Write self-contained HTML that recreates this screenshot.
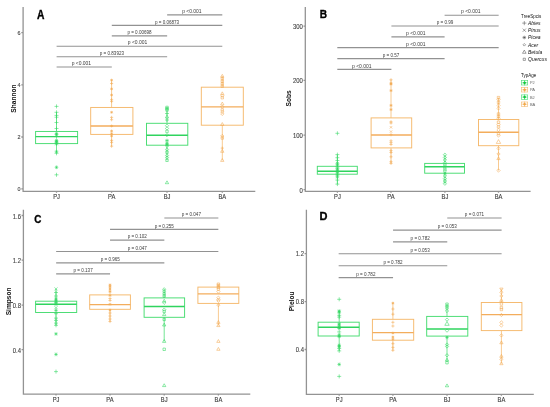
<!DOCTYPE html>
<html><head><meta charset="utf-8"><title>Boxplots</title>
<style>
html,body{margin:0;padding:0;background:#fff;}
svg{display:block;}
text{font-family:"Liberation Sans",Arial,sans-serif;}
.ax{stroke:#939393;stroke-width:1.3;fill:none;}
.bar{stroke:#929292;stroke-width:1.15;fill:none;}
.tk{font-size:6.6px;fill:#444444;stroke:#444444;stroke-width:0.12;text-anchor:end;}
.xl{font-size:6.9px;fill:#444444;stroke:#444444;stroke-width:0.15;text-anchor:middle;}
.pv{font-size:5.2px;fill:#3a3a3a;text-anchor:middle;}
.yl{font-size:6.6px;font-weight:bold;fill:#111;text-anchor:middle;}
.lt{font-weight:bold;fill:#000;stroke:#000;stroke-width:0.35;}
.bg{fill:none;stroke:#46dc70;stroke-width:0.95;}
.bo{fill:none;stroke:#f5b86c;stroke-width:0.95;}
.mg{stroke:#2fd45e;stroke-width:1.4;}
.mo{stroke:#f3ad5c;stroke-width:1.4;}
.wg{stroke:#46dc70;stroke-width:0.75;fill:none;}
.wo{stroke:#f5b86c;stroke-width:0.75;fill:none;}
.pg{stroke:#30d660;stroke-width:0.55;fill:none;}
.po{stroke:#f2a850;stroke-width:0.55;fill:none;}
.lh{font-size:5px;fill:#111;}
.li{font-size:5px;fill:#111;font-style:italic;}
.lk{font-size:4px;fill:#666;}
.lsym{stroke:#444;stroke-width:0.5;fill:none;}
.kg{stroke:#46dc70;stroke-width:0.6;fill:none;}
.ko{stroke:#f5b86c;stroke-width:0.6;fill:none;}
.kkg{fill:#10c83a;stroke:none;}
.kko{fill:#f2a848;stroke:none;}
</style></head><body>
<svg width="550" height="407" viewBox="0 0 550 407">
<rect width="550" height="407" fill="#fff"/>
<path d="M23.1 7V191.3H255.3M21.3 188.8H23.1M21.3 137H23.1M21.3 84.9H23.1M21.3 32.7H23.1M56.5 191.3V192.7M111.6 191.3V192.7M167 191.3V192.7M222.3 191.3V192.7M305.3 6.9V191.3H530.6M303.5 189.7H305.3M303.5 135.1H305.3M303.5 80.4H305.3M303.5 26.2H305.3M337.4 191.3V192.7M391 191.3V192.7M444.9 191.3V192.7M498.5 191.3V192.7M23.4 209.8V394.1H250.3M21.6 349.7H23.4M21.6 305.1H23.4M21.6 260.2H23.4M21.6 215.5H23.4M56 394.1V395.5M110 394.1V395.5M164.2 394.1V395.5M218.4 394.1V395.5M306.4 209.8V394.3H533.8M304.6 349.5H306.4M304.6 301.6H306.4M304.6 253.6H306.4M339.2 394.3V395.7M392.9 394.3V395.7M447 394.3V395.7M501.4 394.3V395.7" class="ax"/>
<path d="M56.6 67H111.8M56.6 56.7H167.15M56.6 46.2H222.3M111.8 35.8H167.15M111.8 25.4H222.3M167.15 14.9H222.3" class="bar"/>
<path d="M337.3 69.3H391.4M337.3 58.6H444.6M337.3 47.6H498.65M391.4 36.8H444.6M391.4 26H498.65M444.6 15.2H498.65" class="bar"/>
<path d="M56.15 273.8H110.05M56.15 262.8H164.35M56.15 251.5H218.35M110.05 240.1H164.35M110.05 229.3H218.35M164.35 218H218.35" class="bar"/>
<path d="M338.65 277.6H393.05M338.65 265.7H447.25M338.65 253.7H501.6M393.05 241.9H447.25M393.05 230.1H501.6M447.25 218H501.6" class="bar"/>
<path d="M56.5 112.1V131.45M56.5 143.6V151.7" class="wg"/>
<path d="M111.6 80.1V107.45M111.6 134.4V146.2" class="wo"/>
<path d="M167 107.4V123.3M167 145.2V160.3" class="wg"/>
<path d="M222.3 76.1V87.2M222.3 125.2V160.3" class="wo"/>
<path d="M337.4 154.6V166.3M337.4 174.2V184.1" class="wg"/>
<path d="M391 79.8V117.9M391 147.9V163.4" class="wo"/>
<path d="M444.9 154.7V163.4M444.9 173.2V183.7" class="wg"/>
<path d="M498.5 97.6V119.5M498.5 145.7V170.5" class="wo"/>
<path d="M56 289V301.2M56 312.5V325.5" class="wg"/>
<path d="M110 284.9V294.9M110 309.3V321.5" class="wo"/>
<path d="M164.2 289.3V297.9M164.2 317.3V341.3" class="wg"/>
<path d="M218.4 284.2V287.1M218.4 303.4V325.5" class="wo"/>
<path d="M339.2 311V322.2M339.2 336V350.9" class="wg"/>
<path d="M392.9 303.1V319.3M392.9 340.2V350.3" class="wo"/>
<path d="M447 304.2V316.4M447 336.1V361.4" class="wg"/>
<path d="M501.4 289.2V302.5M501.4 330.6V363.6" class="wo"/>
<rect x="35.6" y="131.45" width="42" height="12.15" class="bg"/>
<rect x="90.7" y="107.45" width="42.2" height="26.95" class="bo"/>
<rect x="146.5" y="123.3" width="41.3" height="21.9" class="bg"/>
<rect x="201.3" y="87.2" width="42" height="38" class="bo"/>
<rect x="317.3" y="166.3" width="40" height="7.9" class="bg"/>
<rect x="371.1" y="117.9" width="40.6" height="30" class="bo"/>
<rect x="424.7" y="163.4" width="39.8" height="9.8" class="bg"/>
<rect x="478.5" y="119.5" width="40.3" height="26.2" class="bo"/>
<rect x="35.6" y="301.2" width="41.1" height="11.3" class="bg"/>
<rect x="89.7" y="294.9" width="40.7" height="14.4" class="bo"/>
<rect x="144.1" y="297.9" width="40.5" height="19.4" class="bg"/>
<rect x="197.9" y="287.1" width="40.9" height="16.3" class="bo"/>
<rect x="318.1" y="322.2" width="41.1" height="13.8" class="bg"/>
<rect x="372.4" y="319.3" width="41.3" height="20.9" class="bo"/>
<rect x="426.7" y="316.4" width="41.1" height="19.7" class="bg"/>
<rect x="481.3" y="302.5" width="40.6" height="28.1" class="bo"/>
<path d="M35.6 136.6H77.6" class="mg"/>
<path d="M90.7 126H132.9" class="mo"/>
<path d="M146.5 135.2H187.8" class="mg"/>
<path d="M201.3 106.9H243.3" class="mo"/>
<path d="M317.3 171.3H357.3" class="mg"/>
<path d="M371.1 135H411.7" class="mo"/>
<path d="M424.7 166.8H464.5" class="mg"/>
<path d="M478.5 132.2H518.8" class="mo"/>
<path d="M35.6 304.2H76.7" class="mg"/>
<path d="M89.7 304.6H130.4" class="mo"/>
<path d="M144.1 306.5H184.6" class="mg"/>
<path d="M197.9 293.9H238.8" class="mo"/>
<path d="M318.1 327.3H359.2" class="mg"/>
<path d="M372.4 332.6H413.7" class="mo"/>
<path d="M426.7 329H467.8" class="mg"/>
<path d="M481.3 314.6H521.9" class="mo"/>
<path d="M54.5 106.4h4M56.5 104.4v4M54.5 112.3h4M56.5 110.3v4M54.5 115.4h4M56.5 113.4v4M54.5 117.2h4M56.5 115.2v4M54.5 122.5h4M56.5 120.5v4M54.5 128.5h4M56.5 126.5v4M54.7 133.8h3.6M56.5 132v3.6M55.2 132.5l2.6 2.6m0 -2.6l-2.6 2.6M54.7 134.5h3.6M56.5 132.7v3.6M55.2 133.2l2.6 2.6m0 -2.6l-2.6 2.6M54.5 136.6h4M56.5 134.6v4M54.7 140.5h3.6M56.5 138.7v3.6M55.2 139.2l2.6 2.6m0 -2.6l-2.6 2.6M54.7 141.5h3.6M56.5 139.7v3.6M55.2 140.2l2.6 2.6m0 -2.6l-2.6 2.6M54.7 142.5h3.6M56.5 140.7v3.6M55.2 141.2l2.6 2.6m0 -2.6l-2.6 2.6M54.7 144h3.6M56.5 142.2v3.6M55.2 142.7l2.6 2.6m0 -2.6l-2.6 2.6M54.7 151.7h3.6M56.5 149.9v3.6M55.2 150.4l2.6 2.6m0 -2.6l-2.6 2.6M54.5 153.3h4M56.5 151.3v4M54.7 167.3h3.6M56.5 165.5v3.6M55.2 166l2.6 2.6m0 -2.6l-2.6 2.6M54.5 174.8h4M56.5 172.8v4" class="pg"/>
<path d="M110.16 80.1h2.88M111.6 78.66v2.88M110.56 79.06l2.08 2.08m0 -2.08l-2.08 2.08M110 83.5h3.2M111.6 81.9v3.2M110.16 88.9h2.88M111.6 87.46v2.88M110.56 87.86l2.08 2.08m0 -2.08l-2.08 2.08M110.16 95h2.88M111.6 93.56v2.88M110.56 93.96l2.08 2.08m0 -2.08l-2.08 2.08M110 99.7h3.2M111.6 98.1v3.2M110 101.4h3.2M111.6 99.8v3.2M110.16 112.3h2.88M111.6 110.86v2.88M110.56 111.26l2.08 2.08m0 -2.08l-2.08 2.08M110 117.4h3.2M111.6 115.8v3.2M110 119.7h3.2M111.6 118.1v3.2M110.16 126h2.88M111.6 124.56v2.88M110.56 124.96l2.08 2.08m0 -2.08l-2.08 2.08M110.16 131h2.88M111.6 129.56v2.88M110.56 129.96l2.08 2.08m0 -2.08l-2.08 2.08M110.16 133.6h2.88M111.6 132.16v2.88M110.56 132.56l2.08 2.08m0 -2.08l-2.08 2.08M110.16 136h2.88M111.6 134.56v2.88M110.56 134.96l2.08 2.08m0 -2.08l-2.08 2.08M110 140.4h3.2M111.6 138.8v3.2M110 142.4h3.2M111.6 140.8v3.2M110 146.2h3.2M111.6 144.6v3.2" class="po"/>
<path d="M165.79 106.19h2.42v2.42h-2.42zM165.79 107.49h2.42v2.42h-2.42zM165.79 108.79h2.42v2.42h-2.42zM165 113.5h4M167 111.5v4M167 115.14l1.65 2.85h-3.31zM165 120h4M167 118v4M167 124.05l1.65 1.65l-1.65 1.65l-1.65 -1.65zM167 126.75l1.65 1.65l-1.65 1.65l-1.65 -1.65zM165.79 130.19h2.42v2.42h-2.42zM167 133.45l1.65 1.65l-1.65 1.65l-1.65 -1.65zM165.2 140.5h3.6M167 138.7v3.6M165.7 139.2l2.6 2.6m0 -2.6l-2.6 2.6M165.2 143.2h3.6M167 141.4v3.6M165.7 141.9l2.6 2.6m0 -2.6l-2.6 2.6M165.2 144.7h3.6M167 142.9v3.6M165.7 143.4l2.6 2.6m0 -2.6l-2.6 2.6M167 144.35l1.65 1.65l-1.65 1.65l-1.65 -1.65zM167 147.85l1.65 1.65l-1.65 1.65l-1.65 -1.65zM165.79 150.99h2.42v2.42h-2.42zM167 153.85l1.65 1.65l-1.65 1.65l-1.65 -1.65zM167 155.95l1.65 1.65l-1.65 1.65l-1.65 -1.65zM165.79 159.09h2.42v2.42h-2.42zM167 180.84l1.65 2.85h-3.31z" class="pg"/>
<path d="M222.3 74.34l1.65 2.85h-3.31zM221.09 77.39h2.42v2.42h-2.42zM221.09 79.99h2.42v2.42h-2.42zM221.09 82.59h2.42v2.42h-2.42zM221.09 84.99h2.42v2.42h-2.42zM222.3 91.84l1.65 2.85h-3.31zM222.3 94.05l1.65 1.65l-1.65 1.65l-1.65 -1.65zM221.09 96.49h2.42v2.42h-2.42zM222.3 102.04l1.65 2.85h-3.31zM222.3 105.15l1.65 1.65l-1.65 1.65l-1.65 -1.65zM221.09 108.69h2.42v2.42h-2.42zM222.3 110.25l1.65 1.65l-1.65 1.65l-1.65 -1.65zM222.3 112.25l1.65 1.65l-1.65 1.65l-1.65 -1.65zM222.3 122.54l1.65 2.85h-3.31zM222.3 134.35l1.65 1.65l-1.65 1.65l-1.65 -1.65zM221.09 136.79h2.42v2.42h-2.42zM220.7 148.1h3.2M222.3 146.5v3.2M222.3 149.44l1.65 2.85h-3.31zM222.3 158.54l1.65 2.85h-3.31z" class="po"/>
<path d="M335.4 133.3h4M337.4 131.3v4M335.4 154.6h4M337.4 152.6v4M335.4 157.7h4M337.4 155.7v4M335.4 160.5h4M337.4 158.5v4M335.6 163.3h3.6M337.4 161.5v3.6M336.1 162l2.6 2.6m0 -2.6l-2.6 2.6M335.6 165h3.6M337.4 163.2v3.6M336.1 163.7l2.6 2.6m0 -2.6l-2.6 2.6M335.4 167h4M337.4 165v4M335.6 168.5h3.6M337.4 166.7v3.6M336.1 167.2l2.6 2.6m0 -2.6l-2.6 2.6M335.6 170h3.6M337.4 168.2v3.6M336.1 168.7l2.6 2.6m0 -2.6l-2.6 2.6M335.6 171.5h3.6M337.4 169.7v3.6M336.1 170.2l2.6 2.6m0 -2.6l-2.6 2.6M335.6 173h3.6M337.4 171.2v3.6M336.1 171.7l2.6 2.6m0 -2.6l-2.6 2.6M335.6 175h3.6M337.4 173.2v3.6M336.1 173.7l2.6 2.6m0 -2.6l-2.6 2.6M335.6 177h3.6M337.4 175.2v3.6M336.1 175.7l2.6 2.6m0 -2.6l-2.6 2.6M335.4 180.1h4M337.4 178.1v4M335.4 184.1h4M337.4 182.1v4" class="pg"/>
<path d="M389.4 79.8h3.2M391 78.2v3.2M389.56 83.3h2.88M391 81.86v2.88M389.96 82.26l2.08 2.08m0 -2.08l-2.08 2.08M389.56 84.1h2.88M391 82.66v2.88M389.96 83.06l2.08 2.08m0 -2.08l-2.08 2.08M389.56 90.6h2.88M391 89.16v2.88M389.96 89.56l2.08 2.08m0 -2.08l-2.08 2.08M389.56 105.4h2.88M391 103.96v2.88M389.96 104.36l2.08 2.08m0 -2.08l-2.08 2.08M389.56 109.6h2.88M391 108.16v2.88M389.96 108.56l2.08 2.08m0 -2.08l-2.08 2.08M389.4 121.8h3.2M391 120.2v3.2M389.4 123h3.2M391 121.4v3.2M389.8 126.1l2.4 2.4m0 -2.4l-2.4 2.4M389.8 130.4l2.4 2.4m0 -2.4l-2.4 2.4M389.4 134.7h3.2M391 133.1v3.2M389.4 140.8h3.2M391 139.2v3.2M389.4 142.6h3.2M391 141v3.2M389.4 144.5h3.2M391 142.9v3.2M389.4 150.6h3.2M391 149v3.2M389.4 152.5h3.2M391 150.9v3.2M389.4 156.8h3.2M391 155.2v3.2M389.4 161.7h3.2M391 160.1v3.2M389.4 163.4h3.2M391 161.8v3.2" class="po"/>
<path d="M444.9 153.05l1.65 1.65l-1.65 1.65l-1.65 -1.65zM444.9 155.85l1.65 1.65l-1.65 1.65l-1.65 -1.65zM444.9 158.35l1.65 1.65l-1.65 1.65l-1.65 -1.65zM444.9 161.05l1.65 1.65l-1.65 1.65l-1.65 -1.65zM443.69 163.79h2.42v2.42h-2.42zM444.9 165.35l1.65 1.65l-1.65 1.65l-1.65 -1.65zM443.69 167.79h2.42v2.42h-2.42zM444.9 169.35l1.65 1.65l-1.65 1.65l-1.65 -1.65zM443.1 173.2h3.6M444.9 171.4v3.6M443.6 171.9l2.6 2.6m0 -2.6l-2.6 2.6M444.9 174.35l1.65 1.65l-1.65 1.65l-1.65 -1.65zM444.9 176.85l1.65 1.65l-1.65 1.65l-1.65 -1.65zM443.69 179.79h2.42v2.42h-2.42zM444.9 182.05l1.65 1.65l-1.65 1.65l-1.65 -1.65z" class="pg"/>
<path d="M497.29 96.39h2.42v2.42h-2.42zM498.5 97.95l1.65 1.65l-1.65 1.65l-1.65 -1.65zM497.29 101.09h2.42v2.42h-2.42zM498.5 103.75l1.65 1.65l-1.65 1.65l-1.65 -1.65zM498.5 106.75l1.65 1.65l-1.65 1.65l-1.65 -1.65zM497.29 112.79h2.42v2.42h-2.42zM497.29 115.19h2.42v2.42h-2.42zM498.5 116.85l1.65 1.65l-1.65 1.65l-1.65 -1.65zM497.29 120.99h2.42v2.42h-2.42zM498.5 122.95l1.65 1.65l-1.65 1.65l-1.65 -1.65zM497.29 125.69h2.42v2.42h-2.42zM498.5 128.25l1.65 1.65l-1.65 1.65l-1.65 -1.65zM497.29 132.39h2.42v2.42h-2.42zM498.5 133.85l1.65 1.65l-1.65 1.65l-1.65 -1.65zM498.5 139.58l2.2 3.85h-4.4zM498.5 146.75l1.65 1.65l-1.65 1.65l-1.65 -1.65zM498.5 152.35l1.65 1.65l-1.65 1.65l-1.65 -1.65zM498.5 156.74l1.65 2.85h-3.31zM498.5 168.85l1.65 1.65l-1.65 1.65l-1.65 -1.65z" class="po"/>
<path d="M54.5 287.4l3 3m0 -3l-3 3M54 292.5h4M56 290.5v4M54 296h4M56 294v4M54.2 299h3.6M56 297.2v3.6M54.7 297.7l2.6 2.6m0 -2.6l-2.6 2.6M54.2 300.8h3.6M56 299v3.6M54.7 299.5l2.6 2.6m0 -2.6l-2.6 2.6M54.2 302.5h3.6M56 300.7v3.6M54.7 301.2l2.6 2.6m0 -2.6l-2.6 2.6M54.2 304.2h3.6M56 302.4v3.6M54.7 302.9l2.6 2.6m0 -2.6l-2.6 2.6M54.5 306.2l3 3m0 -3l-3 3M54.2 310.4h3.6M56 308.6v3.6M54.7 309.1l2.6 2.6m0 -2.6l-2.6 2.6M54 313.7h4M56 311.7v4M54 318.1h4M56 316.1v4M54 320.4h4M56 318.4v4M54 323.1h4M56 321.1v4M54 325.3h4M56 323.3v4M54.2 333.9h3.6M56 332.1v3.6M54.7 332.6l2.6 2.6m0 -2.6l-2.6 2.6M54.2 354.4h3.6M56 352.6v3.6M54.7 353.1l2.6 2.6m0 -2.6l-2.6 2.6M54 371.6h4M56 369.6v4" class="pg"/>
<path d="M108.56 284.9h2.88M110 283.46v2.88M108.96 283.86l2.08 2.08m0 -2.08l-2.08 2.08M108.56 286.7h2.88M110 285.26v2.88M108.96 285.66l2.08 2.08m0 -2.08l-2.08 2.08M108.56 289h2.88M110 287.56v2.88M108.96 287.96l2.08 2.08m0 -2.08l-2.08 2.08M108.56 291.5h2.88M110 290.06v2.88M108.96 290.46l2.08 2.08m0 -2.08l-2.08 2.08M108.56 295.5h2.88M110 294.06v2.88M108.96 294.46l2.08 2.08m0 -2.08l-2.08 2.08M108.4 298.5h3.2M110 296.9v3.2M108.4 300.5h3.2M110 298.9v3.2M108.56 304.3h2.88M110 302.86v2.88M108.96 303.26l2.08 2.08m0 -2.08l-2.08 2.08M108.56 310h2.88M110 308.56v2.88M108.96 308.96l2.08 2.08m0 -2.08l-2.08 2.08M108.4 313h3.2M110 311.4v3.2M108.4 316h3.2M110 314.4v3.2M108.4 319h3.2M110 317.4v3.2M108.4 321.5h3.2M110 319.9v3.2" class="po"/>
<path d="M164.2 287.65l1.65 1.65l-1.65 1.65l-1.65 -1.65zM164.2 289.45l1.65 1.65l-1.65 1.65l-1.65 -1.65zM162.99 292.39h2.42v2.42h-2.42zM162.99 294.89h2.42v2.42h-2.42zM164.2 299.24l1.65 2.85h-3.31zM164.2 301.15l1.65 1.65l-1.65 1.65l-1.65 -1.65zM164.2 307.95l1.65 1.65l-1.65 1.65l-1.65 -1.65zM162.99 310.19h2.42v2.42h-2.42zM164.2 312.74l1.65 2.85h-3.31zM162.99 318.19h2.42v2.42h-2.42zM164.2 323.14l1.65 2.85h-3.31zM164.2 339.54l1.65 2.85h-3.31zM162.99 348.09h2.42v2.42h-2.42zM164.2 383.74l1.65 2.85h-3.31z" class="pg"/>
<path d="M217.19 282.99h2.42v2.42h-2.42zM217.19 284.29h2.42v2.42h-2.42zM217.19 286.09h2.42v2.42h-2.42zM217.19 287.89h2.42v2.42h-2.42zM218.4 289.95l1.65 1.65l-1.65 1.65l-1.65 -1.65zM218.4 296.05l1.65 1.65l-1.65 1.65l-1.65 -1.65zM218.4 297.95l1.65 1.65l-1.65 1.65l-1.65 -1.65zM218.4 299.15l1.65 1.65l-1.65 1.65l-1.65 -1.65zM218.4 303.45l1.65 1.65l-1.65 1.65l-1.65 -1.65zM218.4 320.54l1.65 2.85h-3.31zM218.4 323.74l1.65 2.85h-3.31zM218.4 339.54l1.65 2.85h-3.31zM218.4 347.44l1.65 2.85h-3.31z" class="po"/>
<path d="M337.2 299.3h4M339.2 297.3v4M337.4 311h3.6M339.2 309.2v3.6M337.9 309.7l2.6 2.6m0 -2.6l-2.6 2.6M337.4 312.2h3.6M339.2 310.4v3.6M337.9 310.9l2.6 2.6m0 -2.6l-2.6 2.6M337.2 315.3h4M339.2 313.3v4M337.2 317.1h4M339.2 315.1v4M337.4 323.9h3.6M339.2 322.1v3.6M337.9 322.6l2.6 2.6m0 -2.6l-2.6 2.6M337.4 325.1h3.6M339.2 323.3v3.6M337.9 323.8l2.6 2.6m0 -2.6l-2.6 2.6M337.4 327.2h3.6M339.2 325.4v3.6M337.9 325.9l2.6 2.6m0 -2.6l-2.6 2.6M337.4 328.4h3.6M339.2 326.6v3.6M337.9 327.1l2.6 2.6m0 -2.6l-2.6 2.6M337.2 331.9h4M339.2 329.9v4M337.4 334.9h3.6M339.2 333.1v3.6M337.9 333.6l2.6 2.6m0 -2.6l-2.6 2.6M337.4 336.5h3.6M339.2 334.7v3.6M337.9 335.2l2.6 2.6m0 -2.6l-2.6 2.6M337.4 345.4h3.6M339.2 343.6v3.6M337.9 344.1l2.6 2.6m0 -2.6l-2.6 2.6M337.4 346.6h3.6M339.2 344.8v3.6M337.9 345.3l2.6 2.6m0 -2.6l-2.6 2.6M337.2 348.4h4M339.2 346.4v4M337.2 350.9h4M339.2 348.9v4M337.4 364.4h3.6M339.2 362.6v3.6M337.9 363.1l2.6 2.6m0 -2.6l-2.6 2.6M337.2 376.4h4M339.2 374.4v4" class="pg"/>
<path d="M391.46 303.1h2.88M392.9 301.66v2.88M391.86 302.06l2.08 2.08m0 -2.08l-2.08 2.08M391.3 309h3.2M392.9 307.4v3.2M391.3 314.2h3.2M392.9 312.6v3.2M391.3 322.3h3.2M392.9 320.7v3.2M391.3 326h3.2M392.9 324.4v3.2M391.46 333h2.88M392.9 331.56v2.88M391.86 331.96l2.08 2.08m0 -2.08l-2.08 2.08M391.46 337h2.88M392.9 335.56v2.88M391.86 335.96l2.08 2.08m0 -2.08l-2.08 2.08M391.46 339.2h2.88M392.9 337.76v2.88M391.86 338.16l2.08 2.08m0 -2.08l-2.08 2.08M391.3 343.7h3.2M392.9 342.1v3.2M391.3 347.4h3.2M392.9 345.8v3.2M391.3 350.3h3.2M392.9 348.7v3.2" class="po"/>
<path d="M445.79 302.99h2.42v2.42h-2.42zM447 304.45l1.65 1.65l-1.65 1.65l-1.65 -1.65zM445.79 306.69h2.42v2.42h-2.42zM447 309.35l1.65 1.65l-1.65 1.65l-1.65 -1.65zM447 317.95l1.65 1.65l-1.65 1.65l-1.65 -1.65zM447 321.48l2.2 3.85h-4.4zM447 328.95l1.65 1.65l-1.65 1.65l-1.65 -1.65zM445.2 337.4h3.6M447 335.6v3.6M445.7 336.1l2.6 2.6m0 -2.6l-2.6 2.6M447 342.85l1.65 1.65l-1.65 1.65l-1.65 -1.65zM447 344.85l1.65 1.65l-1.65 1.65l-1.65 -1.65zM447 353.65l1.65 1.65l-1.65 1.65l-1.65 -1.65zM447 358.24l1.65 2.85h-3.31zM445.79 361.49h2.42v2.42h-2.42zM447 383.94l1.65 2.85h-3.31z" class="pg"/>
<path d="M501.4 290.96l1.65 -2.85h-3.31zM501.4 290.65l1.65 1.65l-1.65 1.65l-1.65 -1.65zM501.4 294.35l1.65 1.65l-1.65 1.65l-1.65 -1.65zM501.4 298.54l1.65 2.85h-3.31zM500.19 302.79h2.42v2.42h-2.42zM500.19 306.39h2.42v2.42h-2.42zM500.19 308.29h2.42v2.42h-2.42zM501.4 313.35l1.65 1.65l-1.65 1.65l-1.65 -1.65zM501.4 320.75l1.65 1.65l-1.65 1.65l-1.65 -1.65zM501.4 323.85l1.65 1.65l-1.65 1.65l-1.65 -1.65zM501.4 333.75l1.65 1.65l-1.65 1.65l-1.65 -1.65zM501.4 340.94l1.65 2.85h-3.31zM501.4 354.44l1.65 2.85h-3.31zM501.4 357.65l1.65 1.65l-1.65 1.65l-1.65 -1.65zM501.4 361.84l1.65 2.85h-3.31z" class="po"/>
<text transform="matrix(0.9 0 0 1 20.6 190.8)" class="tk" style="font-size:6.0px">0</text>
<text transform="matrix(0.9 0 0 1 20.6 139)" class="tk" style="font-size:6.0px">2</text>
<text transform="matrix(0.9 0 0 1 20.6 86.9)" class="tk" style="font-size:6.0px">4</text>
<text transform="matrix(0.9 0 0 1 20.6 34.7)" class="tk" style="font-size:6.0px">6</text>
<text transform="matrix(0.84 0 0 1 56.5 198.5)" class="xl">PJ</text>
<text transform="matrix(0.84 0 0 1 111.6 198.5)" class="xl">PA</text>
<text transform="matrix(0.84 0 0 1 167 198.5)" class="xl">BJ</text>
<text transform="matrix(0.84 0 0 1 222.3 198.5)" class="xl">BA</text>
<text transform="matrix(0.955 0 0 1 81.35 65.25)" class="pv">p &lt;0.001</text>
<text transform="matrix(0.88 0 0 1 111.88 54.95)" class="pv">p = 0.83923</text>
<text transform="matrix(0.955 0 0 1 137.5 44.45)" class="pv">p &lt;0.001</text>
<text transform="matrix(0.88 0 0 1 139.48 34.05)" class="pv">p = 0.00698</text>
<text transform="matrix(0.88 0 0 1 167.05 23.65)" class="pv">p = 0.06873</text>
<text transform="matrix(0.955 0 0 1 191.85 13.15)" class="pv">p &lt;0.001</text>
<text transform="translate(14 98.6) rotate(-90)" x="0" y="2.3" class="yl">Shannon</text>
<text transform="translate(36.9 18.7) scale(0.86 1)" style="font-size:12px" class="lt">A</text>
<text transform="matrix(0.9 0 0 1 302.8 192.7)" class="tk" style="font-size:6.6px">0</text>
<text transform="matrix(0.9 0 0 1 302.8 138.1)" class="tk" style="font-size:6.6px">100</text>
<text transform="matrix(0.9 0 0 1 302.8 83.4)" class="tk" style="font-size:6.6px">200</text>
<text transform="matrix(0.9 0 0 1 302.8 29.2)" class="tk" style="font-size:6.6px">300</text>
<text transform="matrix(0.84 0 0 1 337.4 198.5)" class="xl">PJ</text>
<text transform="matrix(0.84 0 0 1 391 198.5)" class="xl">PA</text>
<text transform="matrix(0.84 0 0 1 444.9 198.5)" class="xl">BJ</text>
<text transform="matrix(0.84 0 0 1 498.5 198.5)" class="xl">BA</text>
<text transform="matrix(0.955 0 0 1 361.75 67.55)" class="pv">p &lt;0.001</text>
<text transform="matrix(0.88 0 0 1 390.95 56.85)" class="pv">p = 0.57</text>
<text transform="matrix(0.955 0 0 1 415.75 45.85)" class="pv">p &lt;0.001</text>
<text transform="matrix(0.955 0 0 1 415.75 35.05)" class="pv">p &lt;0.001</text>
<text transform="matrix(0.88 0 0 1 445.02 24.25)" class="pv">p = 0.99</text>
<text transform="matrix(0.955 0 0 1 470.75 13.45)" class="pv">p &lt;0.001</text>
<text transform="translate(288.9 98.4) rotate(-90)" x="0" y="2.3" class="yl">Sobs</text>
<text transform="translate(319.8 18.2) scale(0.88 1)" style="font-size:11.5px" class="lt">B</text>
<text transform="matrix(0.9 0 0 1 20.9 352.7)" class="tk" style="font-size:6.5px">0.4</text>
<text transform="matrix(0.9 0 0 1 20.9 308.1)" class="tk" style="font-size:6.5px">0.8</text>
<text transform="matrix(0.9 0 0 1 20.9 263.2)" class="tk" style="font-size:6.5px">1.2</text>
<text transform="matrix(0.9 0 0 1 20.9 218.5)" class="tk" style="font-size:6.5px">1.6</text>
<text transform="matrix(0.84 0 0 1 56 401.6)" class="xl">PJ</text>
<text transform="matrix(0.84 0 0 1 110 401.6)" class="xl">PA</text>
<text transform="matrix(0.84 0 0 1 164.2 401.6)" class="xl">BJ</text>
<text transform="matrix(0.84 0 0 1 218.4 401.6)" class="xl">BA</text>
<text transform="matrix(0.88 0 0 1 83.1 272.05)" class="pv">p = 0.137</text>
<text transform="matrix(0.88 0 0 1 110.25 261.05)" class="pv">p = 0.965</text>
<text transform="matrix(0.88 0 0 1 137.25 249.75)" class="pv">p = 0.047</text>
<text transform="matrix(0.88 0 0 1 137.2 238.35)" class="pv">p = 0.102</text>
<text transform="matrix(0.88 0 0 1 164.2 227.55)" class="pv">p = 0.255</text>
<text transform="matrix(0.88 0 0 1 191.35 216.25)" class="pv">p = 0.047</text>
<text transform="translate(9.1 301.4) rotate(-90)" x="0" y="2.3" class="yl">Simpson</text>
<text transform="translate(34.3 223.3) scale(0.84 1)" style="font-size:11.8px" class="lt">C</text>
<text transform="matrix(0.9 0 0 1 303.9 352.05)" class="tk" style="font-size:6.5px">0.4</text>
<text transform="matrix(0.9 0 0 1 303.9 304.15)" class="tk" style="font-size:6.5px">0.8</text>
<text transform="matrix(0.9 0 0 1 303.9 256.15)" class="tk" style="font-size:6.5px">1.2</text>
<text transform="matrix(0.84 0 0 1 339.2 401.6)" class="xl">PJ</text>
<text transform="matrix(0.84 0 0 1 392.9 401.6)" class="xl">PA</text>
<text transform="matrix(0.84 0 0 1 447 401.6)" class="xl">BJ</text>
<text transform="matrix(0.84 0 0 1 501.4 401.6)" class="xl">BA</text>
<text transform="matrix(0.88 0 0 1 365.85 275.85)" class="pv">p = 0.782</text>
<text transform="matrix(0.88 0 0 1 392.95 263.95)" class="pv">p = 0.782</text>
<text transform="matrix(0.88 0 0 1 420.12 251.95)" class="pv">p = 0.053</text>
<text transform="matrix(0.88 0 0 1 420.15 240.15)" class="pv">p = 0.782</text>
<text transform="matrix(0.88 0 0 1 447.32 228.35)" class="pv">p = 0.053</text>
<text transform="matrix(0.88 0 0 1 474.43 216.25)" class="pv">p = 0.071</text>
<text transform="translate(291.8 301.4) rotate(-90)" x="0" y="2.3" class="yl">Pielou</text>
<text transform="translate(319.4 220.1) scale(1.0 1)" style="font-size:11px" class="lt">D</text>
<text transform="matrix(0.9 0 0 1 521.1 17.9)" class="lh">TreeSpcis</text>
<text x="528.0" y="24.9" class="li">Abies</text>
<text x="528.0" y="32" class="li">Pinus</text>
<text x="528.0" y="39.3" class="li">Picea</text>
<text x="528.0" y="46.6" class="li">Acer</text>
<text x="528.0" y="53.8" class="li">Betula</text>
<text x="528.0" y="61.1" class="li">Quercus</text>
<path d="M522.2 23.1h4.2M524.3 21v4.2M522.7 28.6l3.2 3.2m0 -3.2l-3.2 3.2M522.5 37.5h3.6M524.3 35.7v3.6M523 36.2l2.6 2.6m0 -2.6l-2.6 2.6M524.3 43.5l1.3 1.3l-1.3 1.3l-1.3 -1.3zM524.3 50.1l1.8 3.2h-3.6zM523.2 58.2h2.2v2.2h-2.2z" class="lsym"/>
<text transform="matrix(0.9 0 0 1 521.1 76.8)" class="lh">TypAge</text>
<rect x="521.5" y="80.6" width="6.2" height="4.4" class="kg"/>
<path d="M521.5 82.8h6.2M524.6 80v5.6" class="kg"/>
<path d="M524.6 81.2l1.7 1.6l-1.7 1.6l-1.7 -1.6z" class="kkg"/>
<text x="529.9" y="84.2" class="lk">PJ</text>
<rect x="521.5" y="87.6" width="6.2" height="4.4" class="ko"/>
<path d="M521.5 89.8h6.2M524.6 87v5.6" class="ko"/>
<path d="M524.6 88.2l1.7 1.6l-1.7 1.6l-1.7 -1.6z" class="kko"/>
<text x="529.9" y="91.2" class="lk">PA</text>
<rect x="521.5" y="94.9" width="6.2" height="4.4" class="kg"/>
<path d="M521.5 97.1h6.2M524.6 94.3v5.6" class="kg"/>
<path d="M524.6 95.5l1.7 1.6l-1.7 1.6l-1.7 -1.6z" class="kkg"/>
<text x="529.9" y="98.5" class="lk">BJ</text>
<rect x="521.5" y="102" width="6.2" height="4.4" class="ko"/>
<path d="M521.5 104.2h6.2M524.6 101.4v5.6" class="ko"/>
<path d="M524.6 102.6l1.7 1.6l-1.7 1.6l-1.7 -1.6z" class="kko"/>
<text x="529.9" y="105.6" class="lk">BA</text>
</svg>
</body></html>
